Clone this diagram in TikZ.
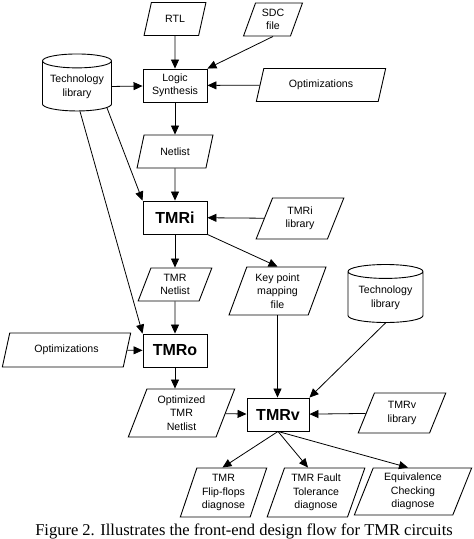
\documentclass[tikz,border=0pt]{standalone}
\usepackage{fontspec}
\setmainfont{Liberation Sans}
\newfontfamily\capfont{Liberation Serif}
\usetikzlibrary{shapes.geometric,arrows.meta}
\begin{document}
\begin{tikzpicture}[x=1pt,y=-1pt,
 every node/.style={font=\fontsize{10.6}{13.5}\selectfont, align=center, inner sep=1pt},
 para/.style={draw, trapezium, trapezium left angle=70, trapezium right angle=110, trapezium stretches=true, line width=0.9pt},
 proc/.style={draw, rectangle, line width=0.9pt, minimum width=64pt, minimum height=33pt},
 db/.style={draw, cylinder, shape border rotate=90, aspect=0.25, line width=0.9pt},
 arr/.style={-{Triangle[length=9pt,width=8pt]}, line width=0.8pt},
 big/.style={font=\fontsize{16}{18}\selectfont\bfseries}
]
\useasboundingbox (0,0) rectangle (474,539);
\fill[white] (0,0) rectangle (474,539);

\node[para, minimum width=62pt, minimum height=33pt] (rtl) at (175,19) {RTL};
\node[para, minimum width=59pt, minimum height=33pt] (sdc) at (273,19.5) {SDC\\file};
\node[proc] (ls) at (175,85.5) {Logic\\Synthesis};
\node[db, minimum width=69pt, minimum height=57pt] (tl1) at (77,87) {Technology\\library};
\node[para, minimum width=130pt, minimum height=33pt] (opt1) at (321,85) {Optimizations};
\node[para, minimum width=76pt, minimum height=33pt] (net) at (175,151.5) {Netlist};
\node[proc, big] (tmri) at (175,217.5) {TMRi};
\node[para, minimum width=88pt, minimum height=41pt] (tmrilib) at (300,218.5) {TMRi\\library};
\node[para, minimum width=74pt, minimum height=33pt] (tmrnet) at (175,284.5) {TMR\\Netlist};
\node[para, minimum width=97pt, minimum height=48pt] (kp) at (277.5,291) {Key point\\mapping\\file};
\node[db, minimum width=75pt, minimum height=58pt] (tl2) at (385.5,298) {Technology\\library};
\node[proc, big] (tmro) at (175,350.5) {TMRo};
\node[para, minimum width=129pt, minimum height=34pt] (opt2) at (66.5,350) {Optimizations};
\node[para, minimum width=107pt, minimum height=48pt] (otn) at (181.5,413) {Optimized\\TMR\\Netlist};
\node[proc, big, minimum width=62pt] (tmrv) at (278,414.5) {TMRv};
\node[para, minimum width=88pt, minimum height=40pt] (tmrvlib) at (402,413) {TMRv\\library};
\node[para, minimum width=87pt, minimum height=49pt] (ff) at (223.5,492.5) {TMR\\Flip-flops\\diagnose};
\node[para, minimum width=98pt, minimum height=49pt] (ft) at (316,492.5) {TMR Fault\\Tolerance\\diagnose};
\node[para, minimum width=118pt, minimum height=47pt] (eq) at (413,491.5) {Equivalence\\Checking\\diagnose};
\node[font=\capfont\fontsize{16.5}{18}\selectfont, anchor=base] (cap) at (244,535) {Figure 2. Illustrates the front-end design flow for TMR circuits};

\draw[arr] (rtl) -- (ls);
\draw[arr] (sdc.south) -- (ls.north east);
\draw[arr] (tl1) -- (ls);
\draw[arr] (opt1) -- (ls);
\draw[arr] (ls) -- (net);
\draw[arr] (net) -- (tmri);
\draw[arr] ([xshift=30pt,yshift=3.5pt]tl1.south) -- (tmri.north west);
\draw[arr] ([xshift=3pt]tl1.south) -- (tmro.north west);
\draw[arr] (tmrilib) -- (tmri);
\draw[arr] (tmri) -- (tmrnet);
\draw[arr] (tmri.south east) -- (kp.north);
\draw[arr] (tmrnet) -- (tmro);
\draw[arr] (opt2) -- (tmro);
\draw[arr] (tmro.south) -- (tmro.south |- otn.north);
\draw[arr] (kp.south) -- (kp.south |- tmrv.north);
\draw[arr] (tl2.south) -- (tmrv.north east);
\draw[arr] (otn) -- (tmrv);
\draw[arr] (tmrvlib) -- (tmrv);
\draw[arr] (tmrv.south) -- ([xshift=-1pt]ff.north);
\draw[arr] (tmrv.south) -- ([xshift=-8pt]ft.north);
\draw[arr] (tmrv.south) -- ([xshift=-5pt]eq.north);
\end{tikzpicture}
\end{document}
